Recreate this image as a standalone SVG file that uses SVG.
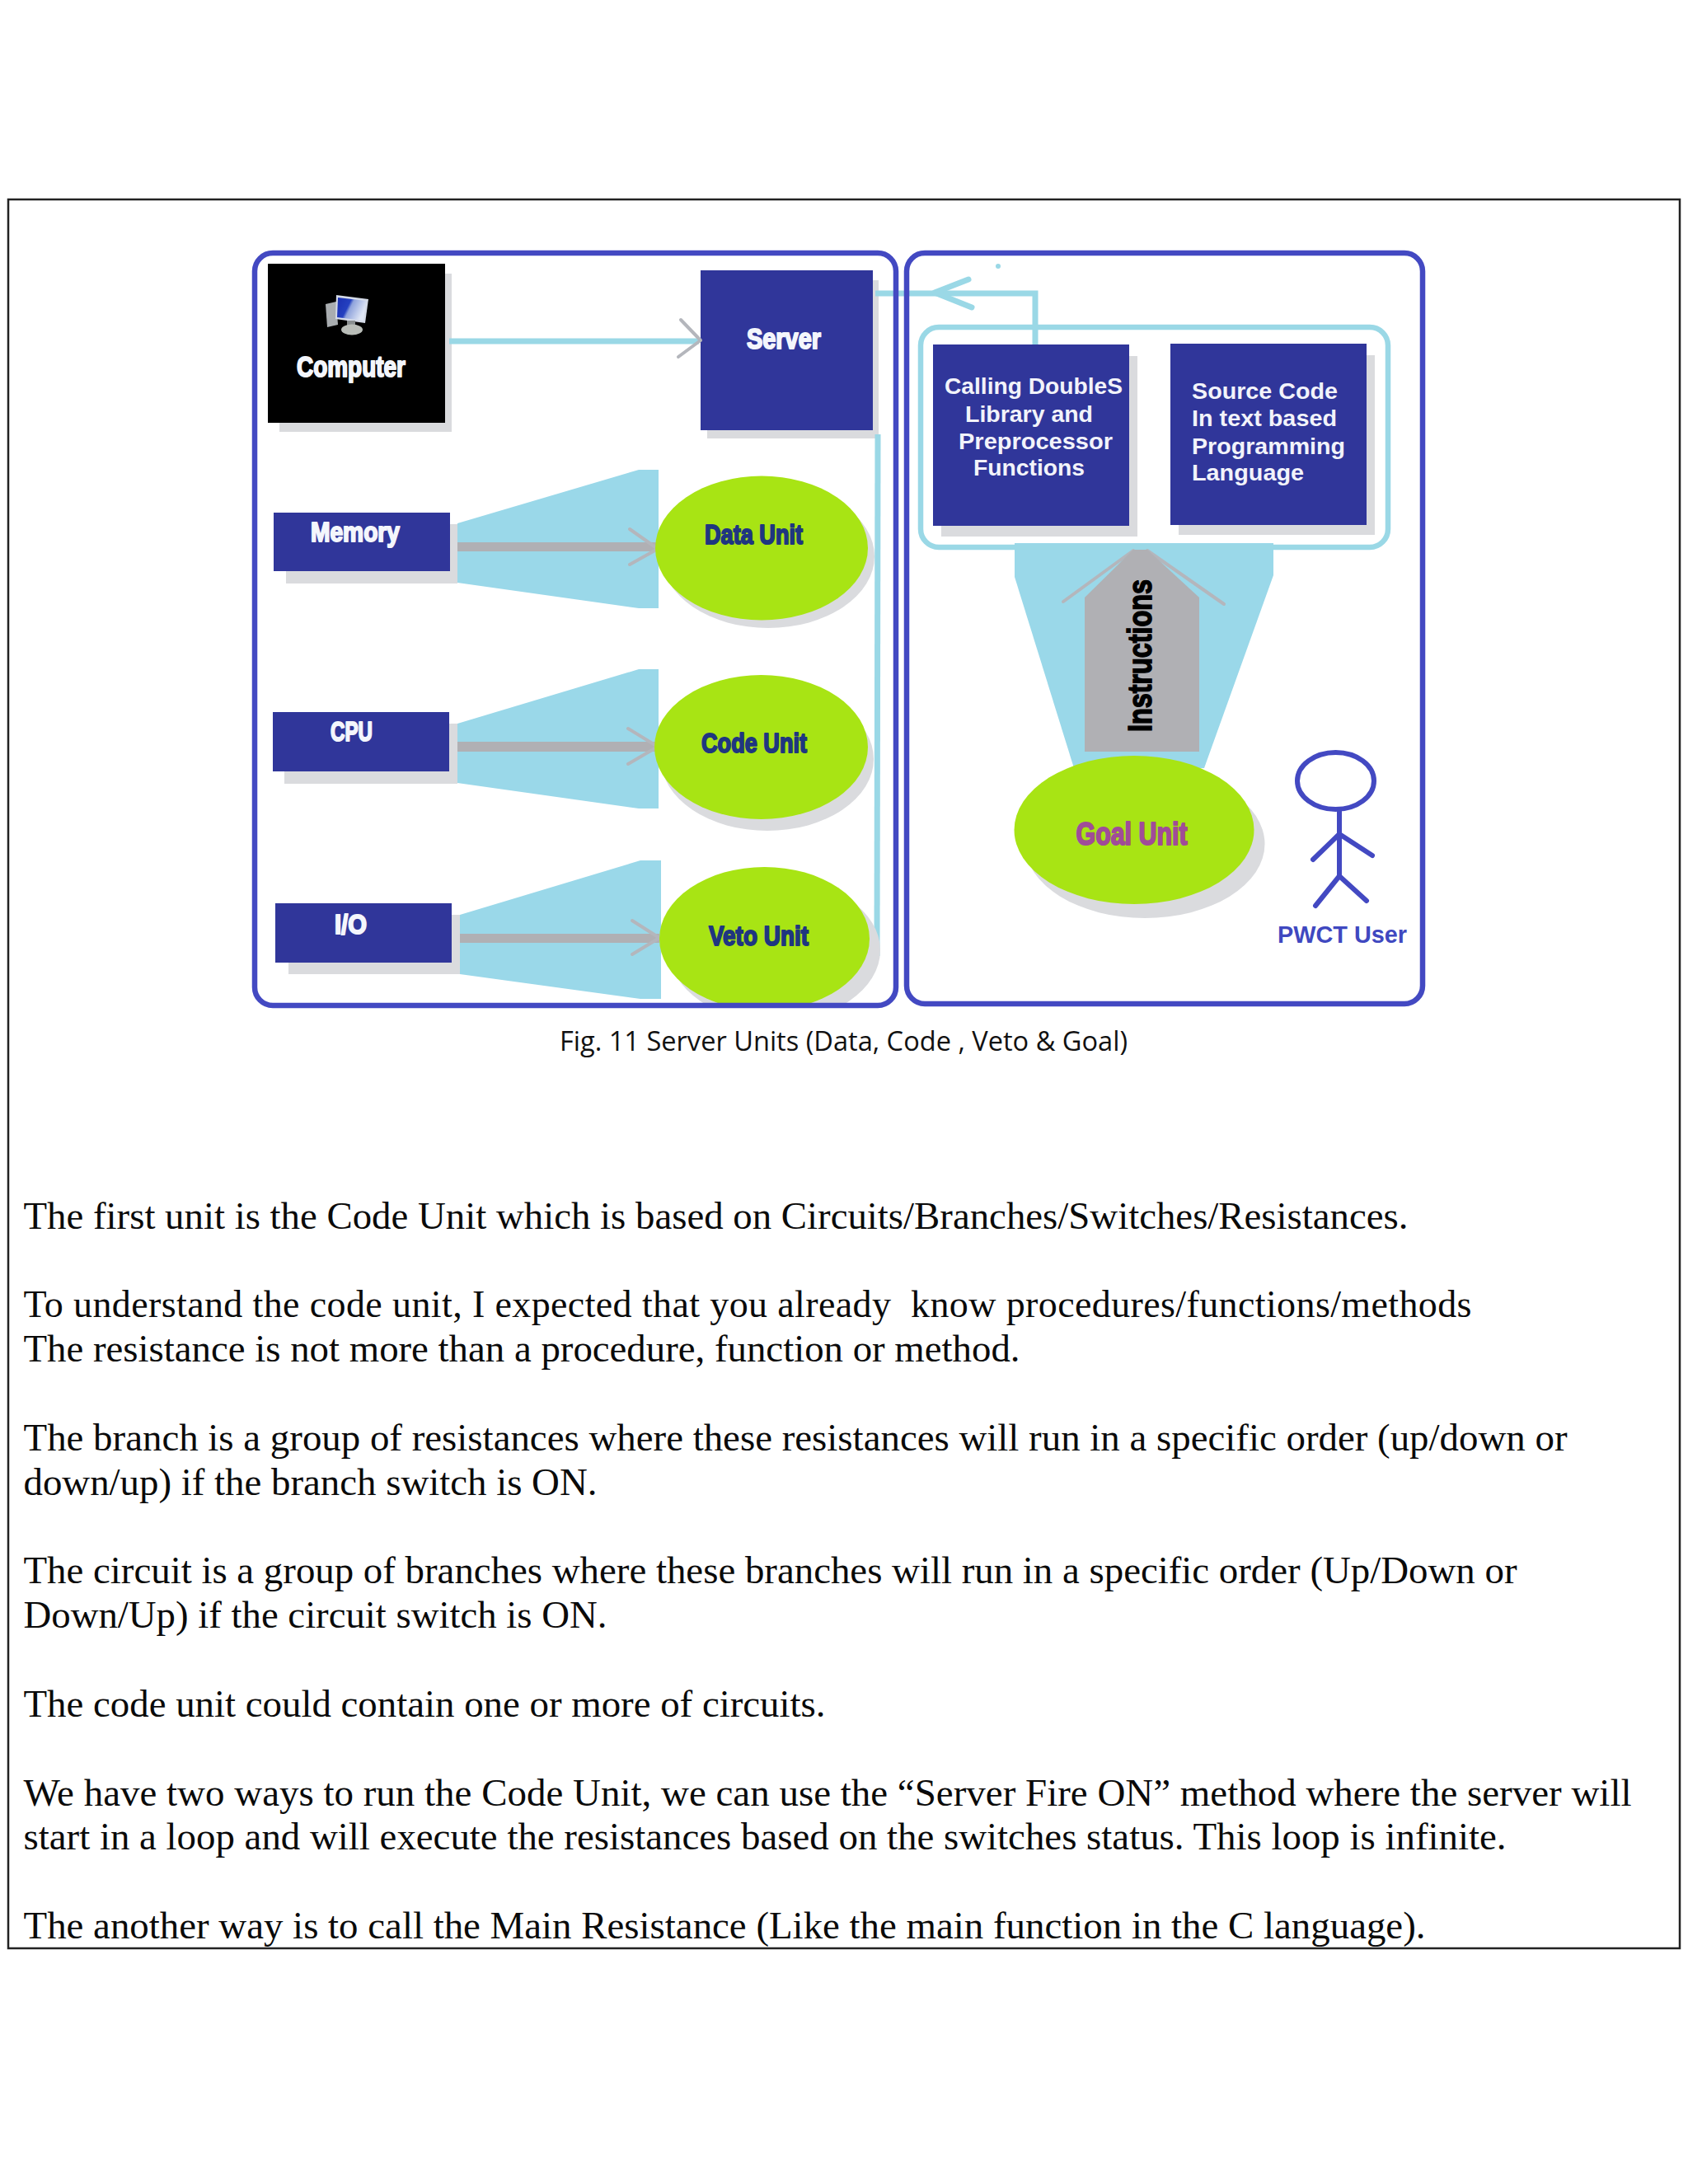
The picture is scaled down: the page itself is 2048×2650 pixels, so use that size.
<svg xmlns="http://www.w3.org/2000/svg" width="2048" height="2650" viewBox="0 0 2048 2650">
<style>
.panel{fill:none;stroke:#4349c2;stroke-width:6.5}
.shadow{fill:#dadbde}
.box{fill:#30369a}
.beam{fill:#9ad8e9}
.unit{fill:#a8e414}
.wire{fill:none;stroke:#9ad8e6;stroke-width:7}
.bar{fill:#b0b0b4}
.head{fill:none;stroke:#b4b6bc;stroke-width:4;stroke-linecap:round;stroke-linejoin:round}
.lab{font-family:"Liberation Sans Narrow","Liberation Sans",Arial,sans-serif;font-weight:700;stroke-width:2;stroke-linejoin:round}
.w{fill:#f4f6fc;stroke:#f4f6fc}
.n{fill:#1f3680;stroke:#1f3680}
.boxt{font-family:"Liberation Sans",Arial,sans-serif;font-weight:700;font-size:27.5px;fill:#f2f3fa}
.body{font-family:"Liberation Serif","Times New Roman",serif;font-size:46px;fill:#0a0a0a}
.fig{fill:none;stroke:#4349c2;stroke-width:6;stroke-linecap:round;stroke-linejoin:round}
</style>
<defs>
<linearGradient id="scr" x1="0" y1="0" x2="1" y2="0.4"><stop offset="0" stop-color="#1a2fb0"/><stop offset="0.45" stop-color="#2440c0"/><stop offset="0.55" stop-color="#8fa3dc"/><stop offset="1" stop-color="#dfe6f5"/></linearGradient>
<clipPath id="leftClip"><rect x="300" y="300" width="792" height="917"/></clipPath>
</defs>
<rect width="2048" height="2650" fill="#ffffff"/>
<rect id="frame" x="10" y="242" width="2028" height="2122" fill="none" stroke="#222" stroke-width="2.5"/>

<g id="beams">
<polygon class="beam" points="555,635 775,570 799,570 799,738 775,738 555,707"/>
<polygon class="beam" points="555,878 775,812 799,812 799,981 775,981 555,950"/>
<polygon class="beam" points="558,1110 777,1044 802,1044 802,1212 777,1212 558,1182"/>
<polygon class="beam" points="1231,659 1545,659 1545,698 1461,932 1303,932 1231,700"/>
</g>

<g id="computer">
<rect class="shadow" x="339" y="332" width="209" height="192"/>
<rect x="325" y="320" width="215" height="193" fill="#000"/>
<g id="computer-icon">
<polygon points="395,369 408,366 410,394 397,397" fill="#a9adb0"/>
<polygon points="408,358 447,363 443,392 407,387" fill="#d5dbe8"/>
<polygon points="410,361 444,365 441,389 409,385" fill="url(#scr)"/>
<rect x="421" y="389" width="10" height="8" fill="#8a8f90"/>
<ellipse cx="427" cy="400" rx="13" ry="6.5" fill="#b9bdb8"/>
</g>
<text class="lab w" x="360" y="457" font-size="35" textLength="132" lengthAdjust="spacingAndGlyphs">Computer</text>
</g>

<g id="server">
<rect class="shadow" x="858" y="340" width="208" height="192"/>
<rect class="box" x="850" y="328" width="209" height="194"/>
<text class="lab w" x="906" y="423" font-size="35" textLength="90" lengthAdjust="spacingAndGlyphs">Server</text>
</g>

<g id="memory">
<rect class="shadow" x="347" y="636" width="208" height="72"/>
<rect class="box" x="332" y="622" width="214" height="71"/>
<text class="lab w" x="377" y="657" font-size="33" textLength="108" lengthAdjust="spacingAndGlyphs">Memory</text>
</g>
<g id="cpu">
<rect class="shadow" x="345" y="878" width="210" height="73"/>
<rect class="box" x="331" y="864" width="214" height="72"/>
<text class="lab w" x="401" y="899" font-size="33" textLength="51" lengthAdjust="spacingAndGlyphs">CPU</text>
</g>
<g id="io">
<rect class="shadow" x="350" y="1110" width="208" height="72"/>
<rect class="box" x="334" y="1096" width="214" height="72"/>
<text class="lab w" x="406" y="1133" font-size="33" textLength="39" lengthAdjust="spacingAndGlyphs">I/O</text>
</g>

<g id="connectors">
<line class="wire" x1="545" y1="414" x2="848" y2="414"/>
<polyline class="head" points="826,388 850,413 823,433" stroke-width="3"/>
<rect class="bar" x="555" y="658" width="242" height="11"/>
<polyline class="head" points="764,642 798,666 764,685"/>
<rect class="bar" x="555" y="900" width="242" height="12"/>
<polyline class="head" points="762,884 798,906 762,927"/>
<rect class="bar" x="558" y="1133" width="242" height="11"/>
<polyline class="head" points="767,1117 800,1138 767,1158"/>
<line class="wire" x1="1065" y1="527" x2="1064" y2="1160"/>
<polyline class="wire" points="1062,356 1256,356 1256,418"/>
<polyline class="wire" points="1175,339 1134,355 1179,373" stroke-linecap="round" stroke-linejoin="round"/>
<circle cx="1211" cy="323" r="3" fill="#9ad8e6"/>
</g>

<g id="data-unit">
<ellipse class="shadow" cx="932" cy="675" rx="129" ry="87"/>
<ellipse class="unit" cx="924" cy="665" rx="129" ry="87.500"/>
<text class="lab n" x="855" y="660" font-size="34" textLength="119" lengthAdjust="spacingAndGlyphs">Data Unit</text>
</g>
<g id="code-unit">
<ellipse class="shadow" cx="931" cy="921" rx="129" ry="87"/>
<ellipse class="unit" cx="923.500" cy="906.500" rx="129.500" ry="87.500"/>
<text class="lab n" x="851" y="913" font-size="34" textLength="128" lengthAdjust="spacingAndGlyphs">Code Unit</text>
</g>
<g id="veto-unit" clip-path="url(#leftClip)">
<ellipse class="shadow" cx="940" cy="1153" rx="128" ry="87"/>
<ellipse class="unit" cx="927.500" cy="1139" rx="127.500" ry="87"/>
<text class="lab n" x="860" y="1147" font-size="34" textLength="121" lengthAdjust="spacingAndGlyphs">Veto Unit</text>
</g>

<rect id="panel-left" class="panel" x="309" y="307" width="778" height="913" rx="22"/>
<rect id="panel-right" class="panel" x="1100" y="307" width="626" height="911" rx="22"/>

<g id="library-group">
<rect x="1117" y="397" width="567" height="267" rx="22" fill="none" stroke="#9ad8e6" stroke-width="6.500"/>
</g>
<g id="calling-box">
<rect class="shadow" x="1142" y="432" width="238" height="219"/>
<rect class="box" x="1132" y="418" width="238" height="220"/>
<text class="boxt" x="1146" y="478" textLength="216" lengthAdjust="spacingAndGlyphs">Calling DoubleS</text>
<text class="boxt" x="1171" y="512" textLength="155" lengthAdjust="spacingAndGlyphs">Library and</text>
<text class="boxt" x="1163" y="545" textLength="187" lengthAdjust="spacingAndGlyphs">Preprocessor</text>
<text class="boxt" x="1181" y="577" textLength="135" lengthAdjust="spacingAndGlyphs">Functions</text>
</g>
<g id="source-box">
<rect class="shadow" x="1430" y="431" width="238" height="218"/>
<rect class="box" x="1420" y="417" width="238" height="220"/>
<text class="boxt" x="1446" y="484" textLength="177" lengthAdjust="spacingAndGlyphs">Source Code</text>
<text class="boxt" x="1446" y="517" textLength="176" lengthAdjust="spacingAndGlyphs">In text based</text>
<text class="boxt" x="1446" y="551" textLength="186" lengthAdjust="spacingAndGlyphs">Programming</text>
<text class="boxt" x="1446" y="583" textLength="136" lengthAdjust="spacingAndGlyphs">Language</text>
</g>

<g id="instructions">
<polyline class="head" points="1290,730 1375,668" stroke="#b4bccb"/>
<polyline class="head" points="1485,733 1392,668" stroke="#b4bccb"/>
<polygon class="bar" points="1375,667 1392,667 1455,725 1455,912 1316,912 1316,725"/>
<text transform="translate(1397 888) rotate(-90)" x="0" y="0" font-family="'Liberation Sans',Arial,sans-serif" font-weight="700" font-size="40" fill="#000" stroke="#000" stroke-width="1.6" textLength="185" lengthAdjust="spacingAndGlyphs">Instructions</text>
</g>

<g id="goal-unit">
<ellipse class="shadow" cx="1389" cy="1024" rx="145.500" ry="90"/>
<ellipse class="unit" cx="1376" cy="1007" rx="145.500" ry="90"/>
<text class="lab" x="1305.500" y="1025" font-size="38" fill="#a04c98" stroke="#a04c98" textLength="135" lengthAdjust="spacingAndGlyphs">Goal Unit</text>
</g>

<g id="pwct-user">
<ellipse class="fig" cx="1620.500" cy="947.500" rx="46.500" ry="34.500"/>
<polyline class="fig" points="1625,984 1625,1063"/>
<polyline class="fig" points="1593,1043 1625,1012 1665,1038"/>
<polyline class="fig" points="1596,1099 1625,1063 1658,1093"/>
<text x="1550" y="1144" font-family="'Liberation Sans',Arial,sans-serif" font-weight="700" font-size="29" fill="#3f48c0" textLength="157" lengthAdjust="spacingAndGlyphs">PWCT User</text>
</g>

<text id="caption" x="679" y="1275" font-family="'Open Sans',sans-serif" font-size="32" fill="#111" textLength="689" lengthAdjust="spacingAndGlyphs">Fig. 11 Server Units (Data, Code , Veto &amp; Goal)</text>

<g id="body-text">
<text class="body" x="28.500" y="1490.500" textLength="1680" lengthAdjust="spacingAndGlyphs">The first unit is the Code Unit which is based on Circuits/Branches/Switches/Resistances.</text>
<text class="body" x="28.500" y="1598" textLength="1757" lengthAdjust="spacing" xml:space="preserve">To understand the code unit, I expected that you already  know procedures/functions/methods</text>
<text class="body" x="28.500" y="1651.500" textLength="1209" lengthAdjust="spacingAndGlyphs">The resistance is not more than a procedure, function or method.</text>
<text class="body" x="28.500" y="1760" textLength="1873" lengthAdjust="spacingAndGlyphs">The branch is a group of resistances where these resistances will run in a specific order (up/down or</text>
<text class="body" x="28.500" y="1814" textLength="696" lengthAdjust="spacingAndGlyphs">down/up) if the branch switch is ON.</text>
<text class="body" x="28.500" y="1921" textLength="1812" lengthAdjust="spacingAndGlyphs">The circuit is a group of branches where these branches will run in a specific order (Up/Down or</text>
<text class="body" x="28.500" y="1975" textLength="708" lengthAdjust="spacingAndGlyphs">Down/Up) if the circuit switch is ON.</text>
<text class="body" x="28.500" y="2083" textLength="973" lengthAdjust="spacingAndGlyphs">The code unit could contain one or more of circuits.</text>
<text class="body" x="28.500" y="2190.500" textLength="1951" lengthAdjust="spacingAndGlyphs">We have two ways to run the Code Unit, we can use the “Server Fire ON” method where the server will</text>
<text class="body" x="28.500" y="2244" textLength="1799" lengthAdjust="spacingAndGlyphs">start in a loop and will execute the resistances based on the switches status. This loop is infinite.</text>
<text class="body" x="28.500" y="2352" textLength="1701" lengthAdjust="spacingAndGlyphs">The another way is to call the Main Resistance (Like the main function in the C language).</text>
</g>
</svg>
